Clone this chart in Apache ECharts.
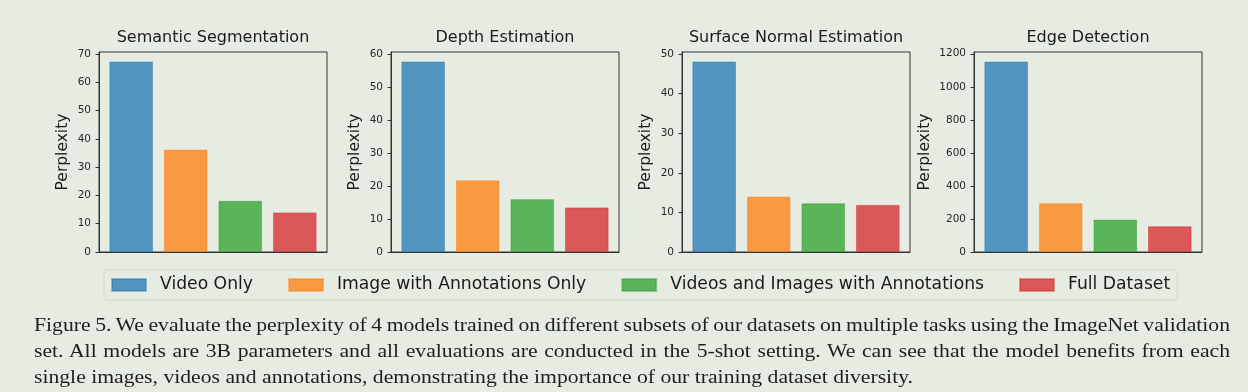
<!DOCTYPE html>
<html>
<head>
<meta charset="utf-8">
<script src="https://cdn.jsdelivr.net/npm/echarts@6/dist/echarts.min.js"></script>
<style>
  html, body { margin: 0; padding: 0; background: #e7ece3; }
  #chart { position: absolute; left: 0; top: 0; width: 1248px; height: 392px; }
  #caption { position: absolute; left: 34px; top: 312px;
             font-family: "Liberation Serif", "Times New Roman", serif; font-size: 19.5px;
             line-height: 26px; color: #1e1e1e; transform-origin: 0 0; }
  #caption .ln { white-space: nowrap; }
  #caption span { display: inline-block; }
</style>
</head>
<body>
<div id="chart"></div>
<div id="caption">
  <div class="ln j"><span>Figure 5. We evaluate the perplexity of 4 models trained on different subsets of our datasets on multiple tasks using the ImageNet validation</span></div>
  <div class="ln j"><span>set. All models are 3B parameters and all evaluations are conducted in the 5-shot setting. We can see that the model benefits from each</span></div>
  <div class="ln last"><span>single images, videos and annotations, demonstrating the importance of our training dataset diversity.</span></div>
</div>
<script>
// ---- data ----
const panelTitles = ['Semantic Segmentation', 'Depth Estimation', 'Surface Normal Estimation', 'Edge Detection'];
const modelNames = ['Video Only', 'Image with Annotations Only', 'Videos and Images with Annotations', 'Full Dataset'];
const semanticSegmentation = [67.3, 36.2, 18.1, 14.0];
const depthEstimation = [57.7, 21.7, 16.0, 13.5];
const surfaceNormal = [48.1, 14.0, 12.3, 11.9];
const edgeDetection = [1153, 295, 196, 156];
const yTickStep = [10, 10, 10, 200];
const yAxisLabel = 'Perplexity';

// ---- style / layout ----
const panelData = [semanticSegmentation, depthEstimation, surfaceNormal, edgeDetection];
const colors = ['rgba(31,119,180,0.75)', 'rgba(255,127,14,0.75)', 'rgba(44,160,44,0.75)', 'rgba(214,39,40,0.75)'];
const edgeColors = ['rgba(31,119,180,0.45)', 'rgba(255,127,14,0.45)', 'rgba(44,160,44,0.45)', 'rgba(214,39,40,0.45)'];
const gridLefts = [99, 391, 682, 974];
const gridW = 228, gridTop = 52, gridH = 200;
const nameGaps = [28, 28, 28, 41];
const xMin = -0.59, xMax = 3.59;
const barPx = 0.8 * gridW / (xMax - xMin);
const font = 'DejaVu Sans';
const dark = '#333333';

const grids = [], xAxes = [], yAxes = [], series = [], graphics = [];
panelData.forEach((vals, p) => {
  grids.push({ left: gridLefts[p], top: gridTop, width: gridW, height: gridH,
    show: true, borderColor: dark, borderWidth: 1, backgroundColor: 'transparent' });
  xAxes.push({ type: 'value', gridIndex: p, min: xMin, max: xMax, z: 10,
    axisLine: { show: true, onZero: false, lineStyle: { color: dark, width: 1 } },
    axisTick: { show: false }, axisLabel: { show: false }, splitLine: { show: false } });
  const step = yTickStep[p];
  const ymax = Math.max(...vals) * 1.05;
  const ticks = [];
  for (let v = 0; v <= ymax + 1e-9; v += step) ticks.push(v);
  yAxes.push({ type: 'value', gridIndex: p, min: 0, max: ymax, interval: step, z: 10,
    name: yAxisLabel, nameLocation: 'middle', nameRotate: 90, nameGap: nameGaps[p],
    nameTextStyle: { fontFamily: font, fontSize: 15.5, color: '#1a1a1a' },
    axisLine: { show: true, onZero: false, lineStyle: { color: dark, width: 1 } },
    axisTick: { show: true, length: 3.5, customValues: ticks, lineStyle: { color: dark, width: 1 } },
    axisLabel: { customValues: ticks, margin: 8, fontFamily: font, fontSize: 10.5, color: '#262626',
      formatter: v => String(v) },
    splitLine: { show: false } });
  vals.forEach((v, m) => {
    series.push({ type: 'bar', name: modelNames[m], xAxisIndex: p, yAxisIndex: p,
      data: [[m, v]], barWidth: barPx, barGap: '-100%',
      itemStyle: { color: colors[m], borderColor: edgeColors[m], borderWidth: 1 },
      emphasis: { disabled: true }, animation: false });
  });
  graphics.push({ type: 'text', x: gridLefts[p] + gridW / 2, y: 46,
    style: { text: panelTitles[p], fill: '#1a1a1a', fontFamily: font, fontSize: 16,
      textAlign: 'center', textVerticalAlign: 'bottom', align: 'center', verticalAlign: 'bottom' } });
});

const chart = echarts.init(document.getElementById('chart'), null, { renderer: 'canvas' });
chart.setOption({
  backgroundColor: 'transparent',
  animation: false,
  grid: grids, xAxis: xAxes, yAxis: yAxes, series: series, graphic: graphics,
  legend: {
    data: modelNames.map((n, i) => ({ name: n, itemStyle: { color: colors[i] } })),
    left: 104, top: 270, orient: 'horizontal',
    icon: 'rect', itemWidth: 34, itemHeight: 12, itemGap: 35,
    padding: [5, 7, 5, 7], borderColor: '#d3d7cf', borderWidth: 1, borderRadius: 3,
    textStyle: { fontFamily: font, fontSize: 17.2, color: '#1a1a1a', lineHeight: 20, padding: [0, 0, 0, 9] },
    selectedMode: false
  }
});

// caption: scale horizontally so the last line ends where the reference does, justify lines 1-2
(function () {
  const cap = document.getElementById('caption');
  const last = cap.querySelector('.last span');
  const w3 = last.getBoundingClientRect().width;
  const k = 879 / w3;
  cap.style.transform = 'scaleX(' + k + ')';
  const target = 1196 / k;
  cap.querySelectorAll('.j span').forEach(sp => {
    const w = sp.getBoundingClientRect().width / k;
    const spaces = (sp.textContent.match(/ /g) || []).length;
    sp.style.wordSpacing = ((target - w) / spaces) + 'px';
  });
})();
</script>
</body>
</html>
